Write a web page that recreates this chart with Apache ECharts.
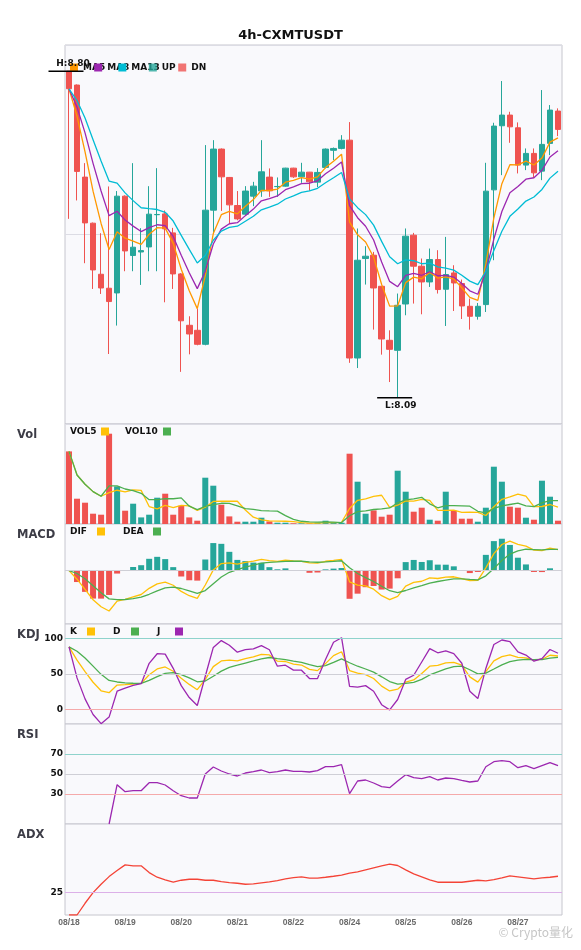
<!DOCTYPE html>
<html><head><meta charset="utf-8">
<script src="https://cdn.jsdelivr.net/npm/echarts@6/dist/echarts.min.js"></script>
<style>html,body{margin:0;padding:0;background:#fff}#c{width:581px;height:950px}</style>
</head><body><div id="c"></div>
<script>
const categories = ['08/18 04:00','08/18 08:00','08/18 12:00','08/18 16:00','08/18 20:00','08/19 00:00','08/19 04:00','08/19 08:00','08/19 12:00','08/19 16:00','08/19 20:00','08/20 00:00','08/20 04:00','08/20 08:00','08/20 12:00','08/20 16:00','08/20 20:00','08/21 00:00','08/21 04:00','08/21 08:00','08/21 12:00','08/21 16:00','08/21 20:00','08/22 00:00','08/22 04:00','08/22 08:00','08/22 12:00','08/22 16:00','08/22 20:00','08/23 00:00','08/23 04:00','08/23 08:00','08/23 12:00','08/23 16:00','08/23 20:00','08/24 00:00','08/24 04:00','08/24 08:00','08/24 12:00','08/24 16:00','08/24 20:00','08/25 00:00','08/25 04:00','08/25 08:00','08/25 12:00','08/25 16:00','08/25 20:00','08/26 00:00','08/26 04:00','08/26 08:00','08/26 12:00','08/26 16:00','08/26 20:00','08/27 00:00','08/27 04:00','08/27 08:00','08/27 12:00','08/27 16:00','08/27 20:00','08/28 00:00','08/28 04:00','08/28 08:00'];
const opens = [8.8000,8.7698,8.5697,8.4696,8.3586,8.3282,8.3180,8.5283,8.3993,8.4070,8.4180,8.4880,8.4898,8.4485,8.3593,8.2477,8.2368,8.2064,8.4979,8.6306,8.5690,8.5080,8.4892,8.5283,8.5399,8.5697,8.5490,8.5501,8.5892,8.5703,8.5805,8.5588,8.5908,8.6280,8.6321,8.6500,8.1766,8.3928,8.4000,8.3325,8.2151,8.1933,8.2940,8.4435,8.3761,8.3419,8.3906,8.3260,8.3615,8.3384,8.2890,8.2673,8.2927,8.5420,8.6813,8.7045,8.6769,8.5958,8.6212,8.5827,8.6430,8.7132];
const closes = [8.7617,8.5821,8.4702,8.3680,8.3288,8.2993,8.5283,8.4093,8.4174,8.4100,8.4892,8.4885,8.4572,8.3593,8.2575,8.2288,8.2064,8.4979,8.6306,8.5703,8.5094,8.4789,8.5394,8.5501,8.5812,8.5399,8.5494,8.5892,8.5703,8.5805,8.5594,8.5799,8.6306,8.6320,8.6500,8.1766,8.3891,8.3978,8.3288,8.2179,8.1955,8.2912,8.4413,8.3761,8.3419,8.3906,8.3254,8.3580,8.3397,8.2897,8.2673,8.2890,8.5392,8.6806,8.7045,8.6790,8.5958,8.6212,8.5790,8.6408,8.7154,8.6734];
const lows = [8.4790,8.5190,8.3826,8.3267,8.3158,8.1853,8.2471,8.3652,8.3652,8.3354,8.3652,8.3652,8.2977,8.3267,8.1465,8.1846,8.2042,8.2042,8.4478,8.4963,8.4674,8.4760,8.4870,8.5066,8.5268,8.5268,8.5268,8.5490,8.5680,8.5573,8.5399,8.5480,8.5886,8.6066,8.6300,8.1661,8.1548,8.3362,8.2383,8.1839,8.1244,8.0900,8.2695,8.2949,8.2716,8.3310,8.3167,8.2462,8.2788,8.2614,8.2383,8.2600,8.2766,8.3891,8.5740,8.6443,8.5777,8.5849,8.5681,8.5631,8.6175,8.6588];
const highs = [8.8000,8.7710,8.6001,8.4710,8.4478,8.5494,8.5394,8.5300,8.6001,8.4587,8.5500,8.5892,8.4972,8.4594,8.3610,8.2673,8.2840,8.6393,8.6500,8.6320,8.5700,8.5394,8.5501,8.5594,8.6500,8.5886,8.5690,8.5900,8.5900,8.6008,8.5810,8.5892,8.6320,8.6340,8.6609,8.6893,8.4581,8.4196,8.4072,8.3330,8.2368,8.3167,8.4581,8.4485,8.3928,8.4145,8.4109,8.4398,8.3782,8.3471,8.3058,8.2962,8.6008,8.6878,8.7785,8.7117,8.6886,8.6320,8.6320,8.7589,8.7263,8.7191];
const volumes = [72600,25300,21300,10300,9300,90300,37600,13300,20300,6600,9300,26300,30300,9300,18300,6600,3300,46300,38300,19300,7600,2300,2300,2300,6300,2600,1300,1300,700,700,700,1300,3300,1300,1300,70300,42300,10300,13600,7300,9300,53300,32300,12300,16300,4300,3300,32300,13300,5300,5300,2300,16300,57300,42300,17300,16300,6300,4300,43300,27300,3300];
const ma5 = [8.7617,8.7018,8.6246,8.5391,8.4690,8.4124,8.4510,8.4371,8.4305,8.4237,8.4455,8.4598,8.4589,8.4257,8.3696,8.3227,8.2839,8.3552,8.4470,8.4881,8.4952,8.4898,8.5063,8.5209,8.5410,8.5406,8.5435,8.5587,8.5626,8.5686,8.5655,8.5703,8.5904,8.6043,8.6195,8.4719,8.4443,8.4288,8.3955,8.3363,8.2894,8.2900,8.3404,8.3523,8.3488,8.3627,8.3503,8.3529,8.3485,8.3289,8.3084,8.3019,8.3810,8.4809,8.5554,8.5966,8.5963,8.6046,8.5961,8.6110,8.6458,8.6550];
const ma8 = [8.7617,8.7218,8.6659,8.5997,8.5395,8.4861,8.4955,8.4763,8.4632,8.4514,8.4598,8.4662,8.4642,8.4409,8.4001,8.3620,8.3274,8.3653,8.4243,8.4567,8.4684,8.4707,8.4860,8.5002,8.5182,8.5230,8.5289,8.5423,8.5485,8.5556,8.5564,8.5616,8.5769,8.5891,8.6026,8.5079,8.4815,8.4629,8.4331,8.3853,8.3431,8.3316,8.3560,8.3605,8.3564,8.3640,8.3554,8.3560,8.3524,8.3385,8.3227,8.3152,8.3650,8.4351,8.4950,8.5359,8.5492,8.5652,8.5683,8.5844,8.6135,8.6268];
const ma13 = [8.7617,8.7360,8.6980,8.6508,8.6048,8.5612,8.5565,8.5355,8.5186,8.5031,8.5011,8.4993,8.4933,8.4742,8.4432,8.4126,8.3831,8.3995,8.4325,8.4522,8.4604,8.4630,8.4739,8.4848,8.4986,8.5045,8.5109,8.5221,8.5290,8.5364,8.5397,8.5454,8.5576,8.5682,8.5799,8.5223,8.5033,8.4882,8.4654,8.4300,8.3965,8.3815,8.3900,8.3880,8.3814,8.3827,8.3745,8.3721,8.3675,8.3564,8.3437,8.3359,8.3649,8.4100,8.4521,8.4845,8.5004,8.5177,8.5265,8.5428,8.5675,8.5826];
const vol5 = [72600,48950,39730,32380,27760,31300,33760,32160,34160,33620,17420,15160,18560,16360,18700,18160,13560,16760,22560,22760,22960,22760,13960,6760,4160,3160,2960,2760,2440,1320,940,940,1340,1460,1580,15500,23700,25100,27560,28760,16560,18760,23160,22900,24700,23700,13700,13700,13900,11700,11900,11700,8500,17300,24700,27100,29900,27900,17300,17500,19500,16900];
const vol10 = [72600,48950,39730,32380,27760,38180,38100,35000,33370,30690,24360,24460,25360,25260,26160,17790,14360,17660,19460,20730,20560,18160,15360,14660,13460,13060,12860,8360,4600,2740,2050,1950,2050,1950,1450,8220,12320,13220,14510,15170,16030,21230,24130,25230,26730,20130,16230,18430,18400,18200,17800,12700,11100,15600,18200,19500,20800,18200,17300,21100,23300,23400];
const dif = [0,-0.0256,-0.0562,-0.0872,-0.1083,-0.1210,-0.0911,-0.0861,-0.0783,-0.0715,-0.0530,-0.0397,-0.0344,-0.0438,-0.0622,-0.0751,-0.0831,-0.0430,0.0023,0.0213,0.0234,0.0194,0.0248,0.0286,0.0342,0.0303,0.0281,0.0312,0.0292,0.0282,0.0234,0.0225,0.0282,0.0308,0.0337,-0.0336,-0.0431,-0.0458,-0.0555,-0.0750,-0.0871,-0.0773,-0.0466,-0.0353,-0.0318,-0.0214,-0.0235,-0.0191,-0.0183,-0.0242,-0.0300,-0.0293,0.0082,0.0510,0.0785,0.0885,0.0791,0.0737,0.0614,0.0602,0.0676,0.0634];
const dea = [0,-0.0085,-0.0244,-0.0454,-0.0663,-0.0846,-0.0867,-0.0865,-0.0838,-0.0797,-0.0708,-0.0604,-0.0518,-0.0491,-0.0535,-0.0607,-0.0682,-0.0598,-0.0391,-0.0190,-0.0048,0.0033,0.0104,0.0165,0.0224,0.0250,0.0261,0.0278,0.0283,0.0282,0.0266,0.0253,0.0262,0.0278,0.0297,0.0086,-0.0086,-0.0210,-0.0325,-0.0467,-0.0602,-0.0659,-0.0595,-0.0514,-0.0449,-0.0371,-0.0325,-0.0281,-0.0248,-0.0246,-0.0264,-0.0274,-0.0155,0.0067,0.0306,0.0499,0.0596,0.0643,0.0634,0.0623,0.0641,0.0639];
const macdHist = [0,-0.0341,-0.0636,-0.0837,-0.0839,-0.0729,-0.0087,0.0008,0.0110,0.0164,0.0356,0.0415,0.0347,0.0106,-0.0175,-0.0288,-0.0299,0.0335,0.0828,0.0805,0.0565,0.0323,0.0287,0.0242,0.0236,0.0105,0.0041,0.0069,0.0019,-0.0001,-0.0064,-0.0055,0.0039,0.0061,0.0079,-0.0844,-0.0690,-0.0496,-0.0460,-0.0567,-0.0539,-0.0229,0.0257,0.0322,0.0261,0.0313,0.0181,0.0179,0.0130,0.0008,-0.0072,-0.0039,0.0474,0.0887,0.0958,0.0772,0.0389,0.0187,-0.0039,-0.0042,0.0071,-0.0009];
const kLine = [88.07,69.42,53.28,38.43,26.51,23.86,34.51,35.15,36.02,36.82,48.97,57.01,59.86,53.89,44.08,35.43,28.02,42.45,60.35,68.29,69.55,68.37,71.59,73.90,77.46,76.74,67.91,67.51,63.79,62.55,56.51,54.71,64.56,75.75,81.12,54.75,51.11,49.23,43.67,33.05,26.23,28.68,38.66,41.69,50.60,60.95,61.95,65.57,66.32,62.30,45.93,38.66,53.44,68.43,74.39,76.79,73.25,72.46,69.33,70.70,76.28,75.19];
const dLine = [88.07,81.85,72.33,61.03,49.52,40.97,38.82,37.60,37.07,36.99,40.98,46.32,50.83,51.85,49.26,44.65,39.11,40.22,46.93,54.05,59.22,62.27,65.38,68.22,71.30,73.11,71.38,70.09,67.99,66.18,62.96,60.21,61.66,66.36,71.28,65.77,60.88,57.00,52.56,46.06,39.45,35.86,36.79,38.42,42.48,48.64,53.08,57.24,60.27,60.95,55.94,50.18,51.27,56.99,62.79,67.46,69.39,70.41,70.05,70.27,72.27,73.24];
const jLine = [88.07,44.56,15.18,-6.77,-19.51,-10.36,25.89,30.25,33.92,36.48,64.95,78.39,77.92,57.97,33.72,16.99,5.84,46.91,87.19,96.77,90.21,80.57,84.01,85.26,89.78,84.00,60.97,62.35,55.39,55.29,43.61,43.71,70.36,94.53,100.80,32.71,31.57,33.69,25.89,7.03,-0.21,14.32,42.40,48.23,66.84,85.57,79.69,82.23,78.42,65.00,25.91,15.62,57.78,91.31,97.59,95.45,80.97,76.56,67.89,71.56,84.30,79.09];
const rsi = ['-','-','-','-','-',0,39.3,32.3,33.3,33.3,41.3,41.3,39.0,33.3,28.3,26.0,26.0,50.0,57.0,53.0,50.0,48.0,51.0,52.3,54.0,51.3,52.3,54.0,52.6,52.6,52.0,53.3,57.3,57.3,59.3,30.3,43.0,44.0,41.0,37.3,36.3,43.0,49.3,46.3,45.3,47.3,44.0,46.0,45.3,43.6,42.0,43.0,57.3,62.3,63.3,62.3,56.3,58.3,55.3,58.3,61.3,58.3];
const adx = [0,0,12.9,24.6,33.8,42.2,48.8,55.1,54.0,54.0,46.6,41.5,38.6,36.0,38.2,39.3,39.3,38.2,38.2,36.7,35.6,34.9,33.8,34.2,35.3,36.4,37.8,39.7,41.1,41.9,40.5,40.5,41.5,42.6,43.8,46.0,47.4,49.6,51.8,54.0,55.9,54.4,49.6,45.2,41.9,38.6,36.0,36.0,36.0,36.0,37.1,38.2,37.5,38.9,40.8,43.0,41.9,40.8,39.7,40.8,41.5,42.6];
const kdjLevels = [100, 50, 0];
const rsiLevels = [70, 50, 30];
const adxLevels = [25];
const macdRange = [-0.16, 0.14];

const UP = '#26a69a', DN = '#ef5350';
const levelColors = ['#8fd3cc', '#cfcfd6', '#f5aaaa'];
const FONT = 'DejaVu Sans';

const hiVal = Math.max.apply(null, highs), loVal = Math.min.apply(null, lows);
const hiIdx = highs.indexOf(hiVal), loIdx = lows.indexOf(loVal);
const pad = (hiVal - loVal) * 0.08;
const yMin = loVal - pad, yMax = hiVal + pad;

const gridTops = [45, 424, 524, 624, 724, 824];
const gridHeights = [379, 100, 100, 100, 100, 91];
const grids = gridTops.map((t, i) => ({left: 65, right: 19, top: t, height: gridHeights[i], show: true,
  backgroundColor: '#f9f9fc', borderColor: '#c6c6ce', borderWidth: 1}));

const xAxes = grids.map((g, i) => ({
  type: 'category', gridIndex: i, data: categories, boundaryGap: true,
  axisLine: {show: false}, axisTick: {show: false}, splitLine: {show: false},
  axisLabel: i === 5 ? {show: true, interval: 6, margin: 3, formatter: v => v.slice(0, 5),
    fontSize: 8.5, fontWeight: 'bold', fontFamily: 'Liberation Sans', color: '#6a6a6a'} : {show: false}
}));

const lblStyle = {fontSize: 9, fontWeight: 'bold', fontFamily: FONT, color: '#111', margin: 2};
const hidden = {axisLine: {show: false}, axisTick: {show: false}};
const yAxes = [
  Object.assign({gridIndex: 0, type: 'value', min: yMin, max: yMax, interval: (yMax - yMin) / 2,
    axisLabel: {show: false}, splitLine: {show: true, lineStyle: {color: '#dcdce4'}}}, hidden),
  Object.assign({gridIndex: 1, type: 'value', min: 0, max: 100000, axisLabel: {show: false}, splitLine: {show: false}}, hidden),
  Object.assign({gridIndex: 2, type: 'value', min: macdRange[0], max: macdRange[1], axisLabel: {show: false}, splitLine: {show: false}}, hidden),
  Object.assign({gridIndex: 3, type: 'value', min: -20, max: 120, interval: 10, splitLine: {show: false},
    axisLabel: Object.assign({formatter: v => kdjLevels.indexOf(v) >= 0 ? String(v) : ''}, lblStyle)}, hidden),
  Object.assign({gridIndex: 4, type: 'value', min: 0, max: 100, interval: 10, splitLine: {show: false},
    axisLabel: Object.assign({formatter: v => rsiLevels.indexOf(v) >= 0 ? String(v) : ''}, lblStyle)}, hidden),
  Object.assign({gridIndex: 5, type: 'value', min: 0, max: 100, interval: 5, splitLine: {show: false},
    axisLabel: Object.assign({formatter: v => adxLevels.indexOf(v) >= 0 ? String(v) : ''}, lblStyle)}, hidden)
];

function levelLines(levels, colors) {
  return {silent: true, symbol: 'none', label: {show: false},
    data: levels.map((v, i) => ({yAxis: v, lineStyle: {color: colors[i], width: 1, type: 'solid'}}))};
}
function line(name, data, color, xi, extra) {
  return Object.assign({type: 'line', name, data, xAxisIndex: xi, yAxisIndex: xi, showSymbol: false,
    symbol: 'none', color, lineStyle: {width: 1.3, color}, animation: false}, extra || {});
}

const legendWidths = {VOL5: 26, VOL10: 33, DIF: 22, DEA: 25, K: 12, D: 13, J: 13};
const legendPad = {UP: '\u2002\u2002\u2002'};
const rich = {};
Object.keys(legendWidths).forEach(k => { const w = legendWidths[k];
  rich['w' + w] = {width: w, align: 'left', fontSize: 9, fontWeight: 'bold', fontFamily: FONT, color: '#111'}; });
const legFmt = name => legendWidths[name] ? '{w' + legendWidths[name] + '|' + name + '}' : name + (legendPad[name] || '');
function legend(data, top, align, gap) {
  return {data, left: 70, top, padding: 0, itemWidth: 8, itemHeight: 8, itemGap: gap, icon: 'rect',
    align, selectedMode: false, formatter: legFmt,
    textStyle: {fontSize: 9, fontWeight: 'bold', fontFamily: FONT, color: '#111', rich}};
}

const nameStyle = {fontSize: 11.5, fontWeight: 'bold', fontFamily: FONT, color: '#3c3c46'};
const panelNames = ['Vol', 'MACD', 'KDJ', 'RSI', 'ADX'];

const option = {
  animation: false,
  backgroundColor: '#ffffff',
  title: [{text: '4h-CXMTUSDT', left: 'center', top: 29, padding: 0,
    textStyle: {fontSize: 13, fontWeight: 'bold', fontFamily: FONT, color: '#111'}}]
    .concat(panelNames.map((t, i) => ({text: t, left: 17, top: gridTops[i + 1] + 5, padding: 0, textStyle: nameStyle}))),
  legend: [
    legend(['MA5', 'MA8', 'MA13', 'UP', 'DN'], 63, 'left', -11),
    legend(['VOL5', 'VOL10'], 427, 'right', 16),
    legend(['DIF', 'DEA'], 527, 'right', 18),
    legend(['K', 'D', 'J'], 627, 'right', 18)
  ],
  grid: grids,
  xAxis: xAxes,
  yAxis: yAxes,
  graphic: [{type: 'text', right: 8, top: 926, silent: true,
    style: {text: '© Crypto量化', fill: '#c6c6c6', font: '12px "Noto Sans CJK SC"'}}],
  series: [
    {type: 'candlestick', name: 'Kline', xAxisIndex: 0, yAxisIndex: 0, barWidth: 6,
      data: categories.map((c, i) => [opens[i], closes[i], lows[i], highs[i]]),
      itemStyle: {color: UP, color0: DN, borderColor: UP, borderColor0: DN, borderWidth: 1},
      markPoint: {symbol: 'rect', symbolSize: [35, 1.5], symbolOffset: [-3, 0], itemStyle: {color: '#000'},
        label: {show: true, color: '#111', fontSize: 9, fontWeight: 'bold', fontFamily: FONT},
        data: [
          {name: 'H', coord: [hiIdx, hiVal], label: {position: 'top', distance: 2, offset: [7, 0], formatter: 'H:' + hiVal.toFixed(2)}},
          {name: 'L', coord: [loIdx, loVal], label: {position: 'bottom', distance: 3, offset: [6, 0], formatter: 'L:' + loVal.toFixed(2)}}
        ]}},
    line('MA5', ma5, '#ff9800', 0),
    line('MA8', ma8, '#9c27b0', 0),
    line('MA13', ma13, '#00bcd4', 0),
    {type: 'scatter', name: 'UP', data: [], xAxisIndex: 0, yAxisIndex: 0, color: UP},
    {type: 'scatter', name: 'DN', data: [], xAxisIndex: 0, yAxisIndex: 0, color: DN},
    {type: 'bar', name: 'Volume', xAxisIndex: 1, yAxisIndex: 1, barWidth: 6,
      data: volumes.map((v, i) => ({value: v, itemStyle: {color: closes[i] >= opens[i] ? UP : DN}}))},
    line('VOL5', vol5, '#ffc107', 1),
    line('VOL10', vol10, '#4caf50', 1),
    {type: 'bar', name: 'MACD', xAxisIndex: 2, yAxisIndex: 2, barWidth: 6,
      data: macdHist.map(v => ({value: v, itemStyle: {color: v >= 0 ? UP : DN}})),
      markLine: levelLines([0], ['#cfcfd6'])},
    line('DIF', dif, '#ffc107', 2),
    line('DEA', dea, '#4caf50', 2),
    line('K', kLine, '#ffc107', 3, {markLine: levelLines(kdjLevels, levelColors)}),
    line('D', dLine, '#4caf50', 3),
    line('J', jLine, '#9c27b0', 3),
    line('RSI', rsi, '#9c27b0', 4, {markLine: levelLines(rsiLevels, levelColors)}),
    line('ADX', adx, '#f44336', 5, {markLine: levelLines(adxLevels, ['#dcb0e8'])})
  ]
};
const chart = echarts.init(document.getElementById('c'), null, {renderer: 'canvas'});
chart.setOption(option);
</script>
</body></html>
